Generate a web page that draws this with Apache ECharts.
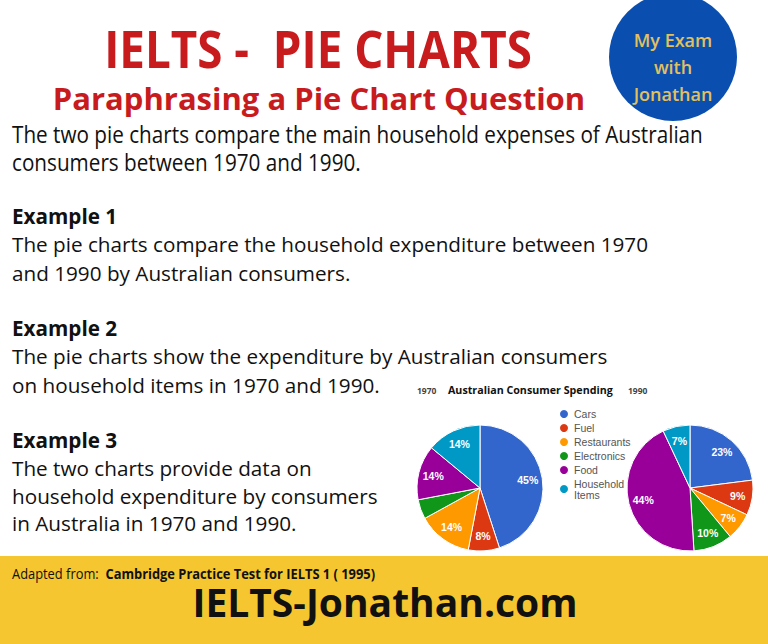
<!DOCTYPE html>
<html>
<head>
<meta charset="utf-8">
<script src="https://cdn.jsdelivr.net/npm/echarts@6/dist/echarts.min.js"></script>
<style>
html,body{margin:0;padding:0;background:#fff;}
#chart{width:768px;height:644px;}
</style>
</head>
<body>
<div id="chart"></div>
<script>
// ---- data ----
const categories = ['Cars', 'Fuel', 'Restaurants', 'Electronics', 'Food', 'Household Items'];
const spending1970 = [45, 8, 14, 5, 14, 14];
const spending1990 = [23, 9, 7, 10, 44, 7];
const labels1970 = ['45%', '8%', '14%', '', '14%', '14%'];
const labels1990 = ['23%', '9%', '7%', '10%', '44%', '7%'];
const colors = ['#3366CC', '#DC3912', '#FF9900', '#109618', '#990099', '#0099C6'];

const chart = echarts.init(document.getElementById('chart'), null, {renderer: 'svg'});

function pieData(values, labels) {
  return categories.map((c, i) => ({
    name: c,
    value: values[i],
    label: {show: labels[i] !== '', formatter: labels[i]}
  }));
}

const bodyFont = '"Open Sans", sans-serif';
function txt(x, y, text, size, weight, color, extra) {
  return Object.assign({
    type: 'text', x: x, y: y,
    style: {text: text, font: weight + ' ' + size + 'px ' + bodyFont, fill: color, textVerticalAlign: 'middle'}
  }, extra || {});
}

const graphics = [
  {type: 'rect', shape: {x: 0, y: 556, width: 768, height: 88}, style: {fill: '#F5C62F'}},
  {type: 'circle', shape: {cx: 673, cy: 57, r: 64}, style: {fill: '#0A4FB0'}},
  {type: 'text', x: 673, y: 40, style: {text: 'My Exam', font: '600 18px ' + bodyFont, fill: '#E3C05E', textAlign: 'center', textVerticalAlign: 'middle'}},
  {type: 'text', x: 673, y: 67, style: {text: 'with', font: '600 18px ' + bodyFont, fill: '#E3C05E', textAlign: 'center', textVerticalAlign: 'middle'}},
  {type: 'text', x: 673, y: 94, style: {text: 'Jonathan', font: '600 18px ' + bodyFont, fill: '#E3C05E', textAlign: 'center', textVerticalAlign: 'middle'}},
  {type: 'text', x: 318, y: 48, scaleX: 0.88, style: {text: 'IELTS -  PIE CHARTS', font: 'bold 52px ' + bodyFont, fill: '#C81B1E', textAlign: 'center', textVerticalAlign: 'middle'}},
  {type: 'text', x: 319, y: 98, style: {text: 'Paraphrasing a Pie Chart Question', font: 'bold 31px ' + bodyFont, fill: '#C81B1E', textAlign: 'center', textVerticalAlign: 'middle'}},
  txt(12, 134, 'The two pie charts compare the main household expenses of Australian', 23, 'normal', '#111', {scaleX: 0.9}),
  txt(12, 162, 'consumers between 1970 and 1990.', 23, 'normal', '#111', {scaleX: 0.9}),
  txt(12, 216, 'Example 1', 20.7, 'bold', '#111'),
  txt(12, 244, 'The pie charts compare the household expenditure between 1970', 20.7, 'normal', '#111'),
  txt(12, 273, 'and 1990 by Australian consumers.', 20.7, 'normal', '#111'),
  txt(12, 328, 'Example 2', 20.7, 'bold', '#111'),
  txt(12, 356, 'The pie charts show the expenditure by Australian consumers', 20.7, 'normal', '#111'),
  txt(12, 385, 'on household items in 1970 and 1990.', 20.7, 'normal', '#111'),
  txt(12, 440, 'Example 3', 20.7, 'bold', '#111'),
  txt(12, 468, 'The two charts provide data on', 20.7, 'normal', '#111'),
  txt(12, 496, 'household expenditure by consumers', 20.7, 'normal', '#111'),
  txt(12, 523, 'in Australia in 1970 and 1990.', 20.7, 'normal', '#111'),
  {type: 'text', x: 12, y: 574, scaleX: 0.92, style: {rich: {a: {font: 'normal 14px ' + bodyFont, fill: '#111'}, b: {font: 'bold 14px ' + bodyFont, fill: '#111'}}, text: '{a|Adapted from:  }{b|Cambridge Practice Test for IELTS 1 ( 1995)}', textVerticalAlign: 'middle'}},
  {type: 'text', x: 385, y: 601, style: {text: 'IELTS-Jonathan.com', font: 'bold 39px ' + bodyFont, fill: '#111', textAlign: 'center', textVerticalAlign: 'middle'}},
  {type: 'text', x: 417, y: 390, style: {text: '1970', font: 'bold 8.5px ' + bodyFont, fill: '#444', textVerticalAlign: 'middle'}},
  {type: 'text', x: 448, y: 390, style: {text: 'Australian Consumer Spending', font: 'bold 10.7px ' + bodyFont, fill: '#111', textVerticalAlign: 'middle'}},
  {type: 'text', x: 628, y: 390, style: {text: '1990', font: 'bold 8.5px ' + bodyFont, fill: '#444', textVerticalAlign: 'middle'}}
];

function pushOut(cx, cy) {
  return function (params) {
    const r = params.labelRect;
    const lx = r.x + r.width / 2, ly = r.y + r.height / 2;
    return {x: cx + (lx - cx) * 1.4, y: cy + (ly - cy) * 1.4, align: 'center', verticalAlign: 'middle'};
  };
}

const pieCommon = {
  type: 'pie',
  radius: 63,
  startAngle: 90,
  clockwise: true,
  avoidLabelOverlap: false,
  itemStyle: {borderColor: '#fff', borderWidth: 1},
  label: {position: 'inside', color: '#fff', fontSize: 10.5, fontWeight: 'bold', fontFamily: 'Arial, sans-serif'},
  labelLine: {show: false},
  emphasis: {disabled: true}
};

chart.setOption({
  animation: false,
  color: colors,
  legend: {
    orient: 'vertical',
    left: 553,
    top: 403,
    icon: 'circle',
    itemWidth: 10,
    itemHeight: 10,
    itemGap: 2,
    data: categories,
    formatter: name => name === 'Household Items' ? 'Household\nItems' : name,
    textStyle: {fontSize: 10.5, color: '#555', fontFamily: 'Arial, sans-serif', lineHeight: 11}
  },
  series: [
    Object.assign({}, pieCommon, {name: '1970', center: [480, 488], labelLayout: pushOut(480, 488), data: pieData(spending1970, labels1970)}),
    Object.assign({}, pieCommon, {name: '1990', center: [690, 488], labelLayout: pushOut(690, 488), data: pieData(spending1990, labels1990)})
  ],
  graphic: graphics
});
</script>
</body>
</html>
